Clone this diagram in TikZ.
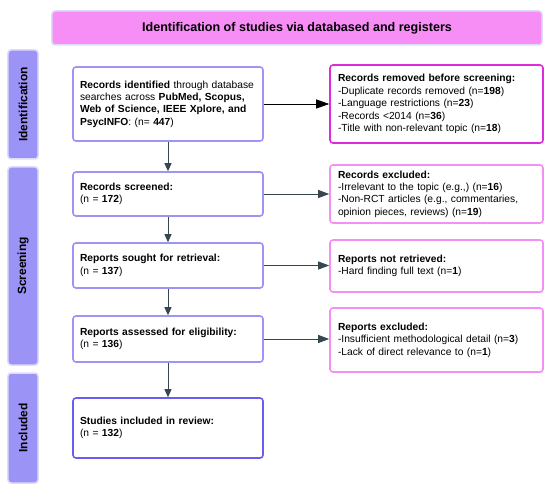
\documentclass[tikz,border=0pt]{standalone}
\usepackage{fontspec}
\setmainfont{Liberation Sans}
\usetikzlibrary{arrows.meta}
\definecolor{side}{HTML}{9B93F5}
\definecolor{sideedge}{HTML}{DEDBFC}
\definecolor{lbox}{HTML}{9D94F5}
\definecolor{lboxdark}{HTML}{6A5CF0}
\definecolor{rbox}{HTML}{F58EF5}
\definecolor{rboxdark}{HTML}{DE2BDE}
\definecolor{titlefill}{HTML}{F68EF6}
\definecolor{arr}{HTML}{37474F}
\tikzset{
  sidebar/.style={draw=sideedge, line width=1.5bp, fill=side, rounded corners=3bp, minimum width=30bp, inner sep=0pt},
  sidelabel/.style={rotate=90, font=\fontsize{12}{14}\selectfont\bfseries},
  lstage/.style={draw=lbox, line width=1.6bp, fill=white, rounded corners=3bp, minimum width=190bp, text width=176bp, align=left, inner sep=0pt, font=\fontsize{10.3}{12.4}\selectfont},
  rstage/.style={draw=rbox, line width=1.6bp, fill=white, rounded corners=3bp, minimum width=213bp, text width=197bp, align=left, inner sep=0pt, font=\fontsize{10.3}{12.4}\selectfont},
  flow/.style={draw=arr, line width=0.9bp, -{Triangle[length=8bp,width=7bp]}},
}
\begin{document}
\begin{tikzpicture}[x=1bp,y=-1bp]
\useasboundingbox (0,0) rectangle (550,494);
% title
\node[draw=sideedge, line width=1.5bp, fill=titlefill, rounded corners=3bp, minimum width=490bp, minimum height=34bp, inner sep=0pt, font=\fontsize{12.6}{14}\selectfont\bfseries] (title) at (297,28) {Identification of studies via databased and registers};
% side bars
\node[sidebar, minimum height=109bp] (sid) at (23,104.5) {};
\node[sidelabel] (sidl) at (sid.center) {Identification};
\node[sidebar, minimum height=198bp] (sscr) at (23,266) {};
\node[sidelabel] (sscrl) at (sscr.center) {Screening};
\node[sidebar, minimum height=110bp] (sinc) at (23,428) {};
\node[sidelabel] (sincl) at (sinc.center) {Included};
% left boxes
\node[lstage, minimum height=74bp] (ident) at (168,104) {\textbf{Records identified} through database\\searches across \textbf{PubMed, Scopus,}\\\textbf{Web of Science, IEEE Xplore, and}\\\textbf{PsycINFO}: (n= \textbf{447})};
\node[lstage, minimum height=44bp] (scr) at (168,194) {\textbf{Records screened:}\\(n = \textbf{172})};
\node[lstage, minimum height=45bp] (sought) at (168,265.5) {\textbf{Reports sought for retrieval:}\\(n = \textbf{137})};
\node[lstage, minimum height=46bp] (assess) at (168,339) {\textbf{Reports assessed for eligibility:}\\(n = \textbf{136})};
\node[lstage, draw=lboxdark, minimum height=60bp] (incl) at (168,428) {\textbf{Studies included in review:}\\(n = \textbf{132})};
% right boxes
\node[rstage, draw=rboxdark, minimum height=78bp] (removed) at (436.5,104) {\textbf{Records removed before screening:}\\-Duplicate records removed (n=\textbf{198})\\-Language restrictions (n=\textbf{23})\\-Records <2014 (n=\textbf{36})\\-Title with non-relevant topic (n=\textbf{18})};
\node[rstage, minimum height=58bp] (excl) at (436.5,194) {\textbf{Records excluded:}\\-Irrelevant to the topic (e.g.,) (n=\textbf{16})\\-Non-RCT articles (e.g., commentaries,\\opinion pieces, reviews) (n=\textbf{19})};
\node[rstage, minimum height=52bp] (notret) at (436.5,266) {\textbf{Reports not retrieved:}\\-Hard finding full text (n=\textbf{1})};
\node[rstage, minimum height=64bp] (rexcl) at (436.5,340) {\textbf{Reports excluded:}\\-Insufficient methodological detail (n=\textbf{3})\\-Lack of direct relevance to (n=\textbf{1})};
% arrows
\draw[draw=black, line width=0.9bp, -{Triangle[length=13bp,width=9bp]}] (ident) -- (removed);
\draw[flow] (ident) -- (scr);
\draw[flow] (scr) -- (sought);
\draw[flow] (sought) -- (assess);
\draw[flow] (assess) -- (incl);
\draw[flow, -{Triangle[length=11bp,width=8bp]}] (scr) -- (excl);
\draw[flow, -{Triangle[length=11bp,width=8bp]}] (sought.east) -- (notret.west |- sought.east);
\draw[flow, -{Triangle[length=11bp,width=8bp]}] (assess) -- (rexcl.west |- assess.east);
\end{tikzpicture}
\end{document}
